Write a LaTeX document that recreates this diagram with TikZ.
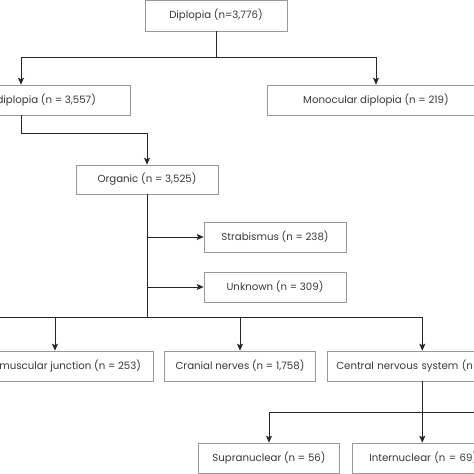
\documentclass[tikz,border=0pt]{standalone}
\usepackage{fontspec}
\setmainfont{Poppins}
\usetikzlibrary{arrows.meta}

\begin{document}
\begin{tikzpicture}[x=1pt,y=1pt]
\definecolor{boxColor}{gray}{0.60}
\definecolor{lineColor}{gray}{0.15}
\definecolor{textColor}{gray}{0.22}
\tikzset{
  box/.style={draw=boxColor,line width=0.6pt,fill=white,text=textColor,
    inner sep=0pt,minimum height=30,font=\fontsize{10.2}{12}\selectfont},
  cutbox/.style={box,align=left,anchor=west},
  link/.style={draw=lineColor,line width=0.9pt,-{Stealth[length=7pt,width=6pt,inset=1.5pt]}},
  trunk/.style={draw=lineColor,line width=0.9pt}
}
\path[use as bounding box,fill=white] (0,0) rectangle (474,474);

% boxes
\node[box,minimum width=142,minimum height=31] (diplopia) at (216,458.5) {Diplopia (n=3,776)};
\node[box,minimum width=218] (binoc) at (21,374) {Binocular diplopia (n = 3,557)};
\node[box,minimum width=218] (mono) at (376,374) {Monocular diplopia (n = 219)};
\node[box,minimum width=142,minimum height=29] (organic) at (147,294.5) {Organic (n = 3,525)};
\node[box,minimum width=142] (strab) at (275,237) {Strabismus (n = 238)};
\node[box,minimum width=142] (unknown) at (275,187) {Unknown (n = 309)};
\node[box,minimum width=196] (nmj) at (55,108) {Neuromuscular junction (n = 253)};
\node[box,minimum width=151] (cranial) at (240,108) {Cranial nerves (n = 1,758)};
\node[cutbox,text width=172,inner xsep=9] (cns) at (327,108) {Central nervous system (n};
\node[box,minimum width=141] (supra) at (269,16) {Supranuclear (n = 56)};
\node[cutbox,text width=130,inner xsep=17] (inter) at (352,16) {Internuclear (n = 69)};

% free ends of the branches that run off the page
\coordinate (farleft) at (-20,157);
\coordinate (farright) at (490,62);

% connectors
\draw[link] (diplopia.south) -- ++(0,-26) -| (binoc.north);
\draw[link] (diplopia.south) -- ++(0,-26) -| (mono.north);
\draw[link] (binoc.south) -- ++(0,-18) -| (organic.north);
\draw[trunk] (organic.south) -- (organic.south |- farleft);
\draw[link] (organic.south |- strab.west) -- (strab.west);
\draw[link] (organic.south |- unknown.west) -- (unknown.west);
\draw[trunk] (farleft) -- (cns.north |- farleft);
\draw[link] (nmj.north |- farleft) -- (nmj.north);
\draw[link] (cranial.north |- farleft) -- (cranial.north);
\draw[link] (cns.north |- farleft) -- (cns.north);
\draw[link] (cns.south) -- (cns.south |- inter.north);
\draw[link] (farright) -| (supra.north);
\end{tikzpicture}
\end{document}
